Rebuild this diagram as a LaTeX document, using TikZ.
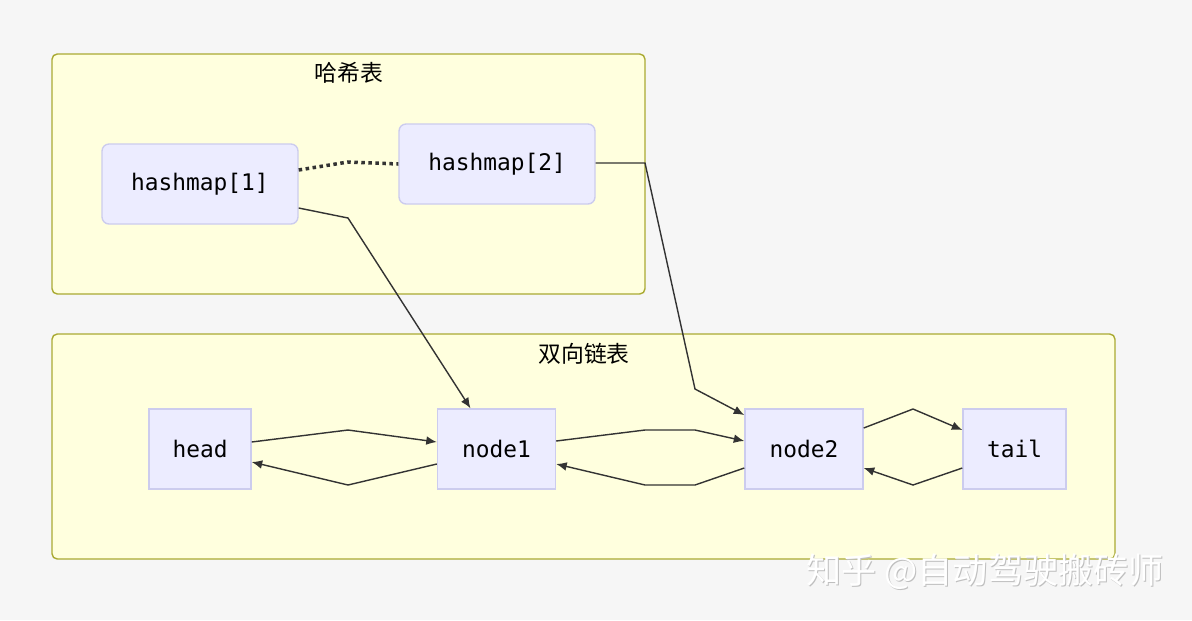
\documentclass[tikz,border=0pt]{standalone}
\usepackage{fontspec}
\setmonofont{DejaVu Sans Mono}
\newfontfamily\cjk{Noto Sans CJK SC}
\usetikzlibrary{calc,arrows.meta}
\definecolor{bgc}{HTML}{F6F6F6}
\definecolor{clfill}{HTML}{FFFFDE}
\definecolor{cldraw}{HTML}{AAAA33}
\definecolor{ndfill}{HTML}{ECECFF}
\definecolor{nddraw}{HTML}{CCCCEE}
\begin{document}
\begin{tikzpicture}[x=0.02cm,y=-0.02cm,
    cluster/.style={draw=cldraw,fill=clfill,rounded corners=3pt,line width=0.8pt},
    box/.style={draw=nddraw,fill=ndfill,line width=0.8pt,minimum height=1.6cm,font=\ttfamily\fontsize{13}{15}\selectfont},
    arr/.style={draw=black!80,line width=0.8pt,-{Latex[length=6pt,width=5pt]}}]
            \fill[bgc] (0,0) rectangle (1192,620);
            \draw[cluster] (52,54) rectangle (645,294);
            \draw[cluster] (52,334) rectangle (1115,559);
            \node (t1) at (349,73) {\cjk\fontsize{13}{15}\selectfont 哈希表};
            \node (t2) at (584,354) {\cjk\fontsize{13}{15}\selectfont 双向链表};
            \node[box,rounded corners=4pt,minimum width=3.92cm] (h1) at (200,184) {hashmap[1]};
            \node[box,rounded corners=4pt,minimum width=3.92cm] (h2) at (497,164) {hashmap[2]};
            \node[box,minimum width=2.04cm] (head) at (200,449) {head};
            \node[box,minimum width=2.36cm] (n1) at (496.5,449) {node1};
            \node[box,minimum width=2.36cm] (n2) at (804,449) {node2};
            \node[box,minimum width=2.06cm] (tail) at (1014.5,449) {tail};
            % hash table links
            \draw[black!80,line width=2pt,dotted] ($(h1.east)+(0,-14)$) -- (348,162) -- (h2.west);
            \draw[arr] ($(h1.east)+(0,24)$) -- (348,218) -- ($(n1.north)+(-26,0)$);
            \draw[arr] ($(h2.east)+(0,-1)$) -- (645,163) -- (695,389) -- ($(n2.west)+(0,-34)$);
            % list links
            \draw[arr] ($(head.east)+(0,-7)$) -- (348,430) -- ($(n1.west)+(0,-7)$);
            \draw[arr] ($(n1.west)+(0,15)$) -- (348,485) -- ($(head.east)+(0,13)$);
            \draw[arr] ($(n1.east)+(0,-8)$) -- (645,430) -- (695,430) -- ($(n2.west)+(0,-8)$);
            \draw[arr] ($(n2.west)+(0,19)$) -- (695,485) -- (645,485) -- ($(n1.east)+(0,15)$);
            \draw[arr] ($(n2.east)+(0,-21)$) -- (913,409) -- ($(tail.west)+(0,-19)$);
            \draw[arr] ($(tail.west)+(0,19)$) -- (913,485) -- ($(n2.east)+(0,19)$);
            \node[text=black!25,font=\cjk\fontsize{20}{24}\selectfont] (wms) at (986,573) {知乎 @自动驾驶搬砖师};
            \node[text=white,font=\cjk\fontsize{20}{24}\selectfont] (wm) at (985,572) {知乎 @自动驾驶搬砖师};
\end{tikzpicture}
\end{document}
